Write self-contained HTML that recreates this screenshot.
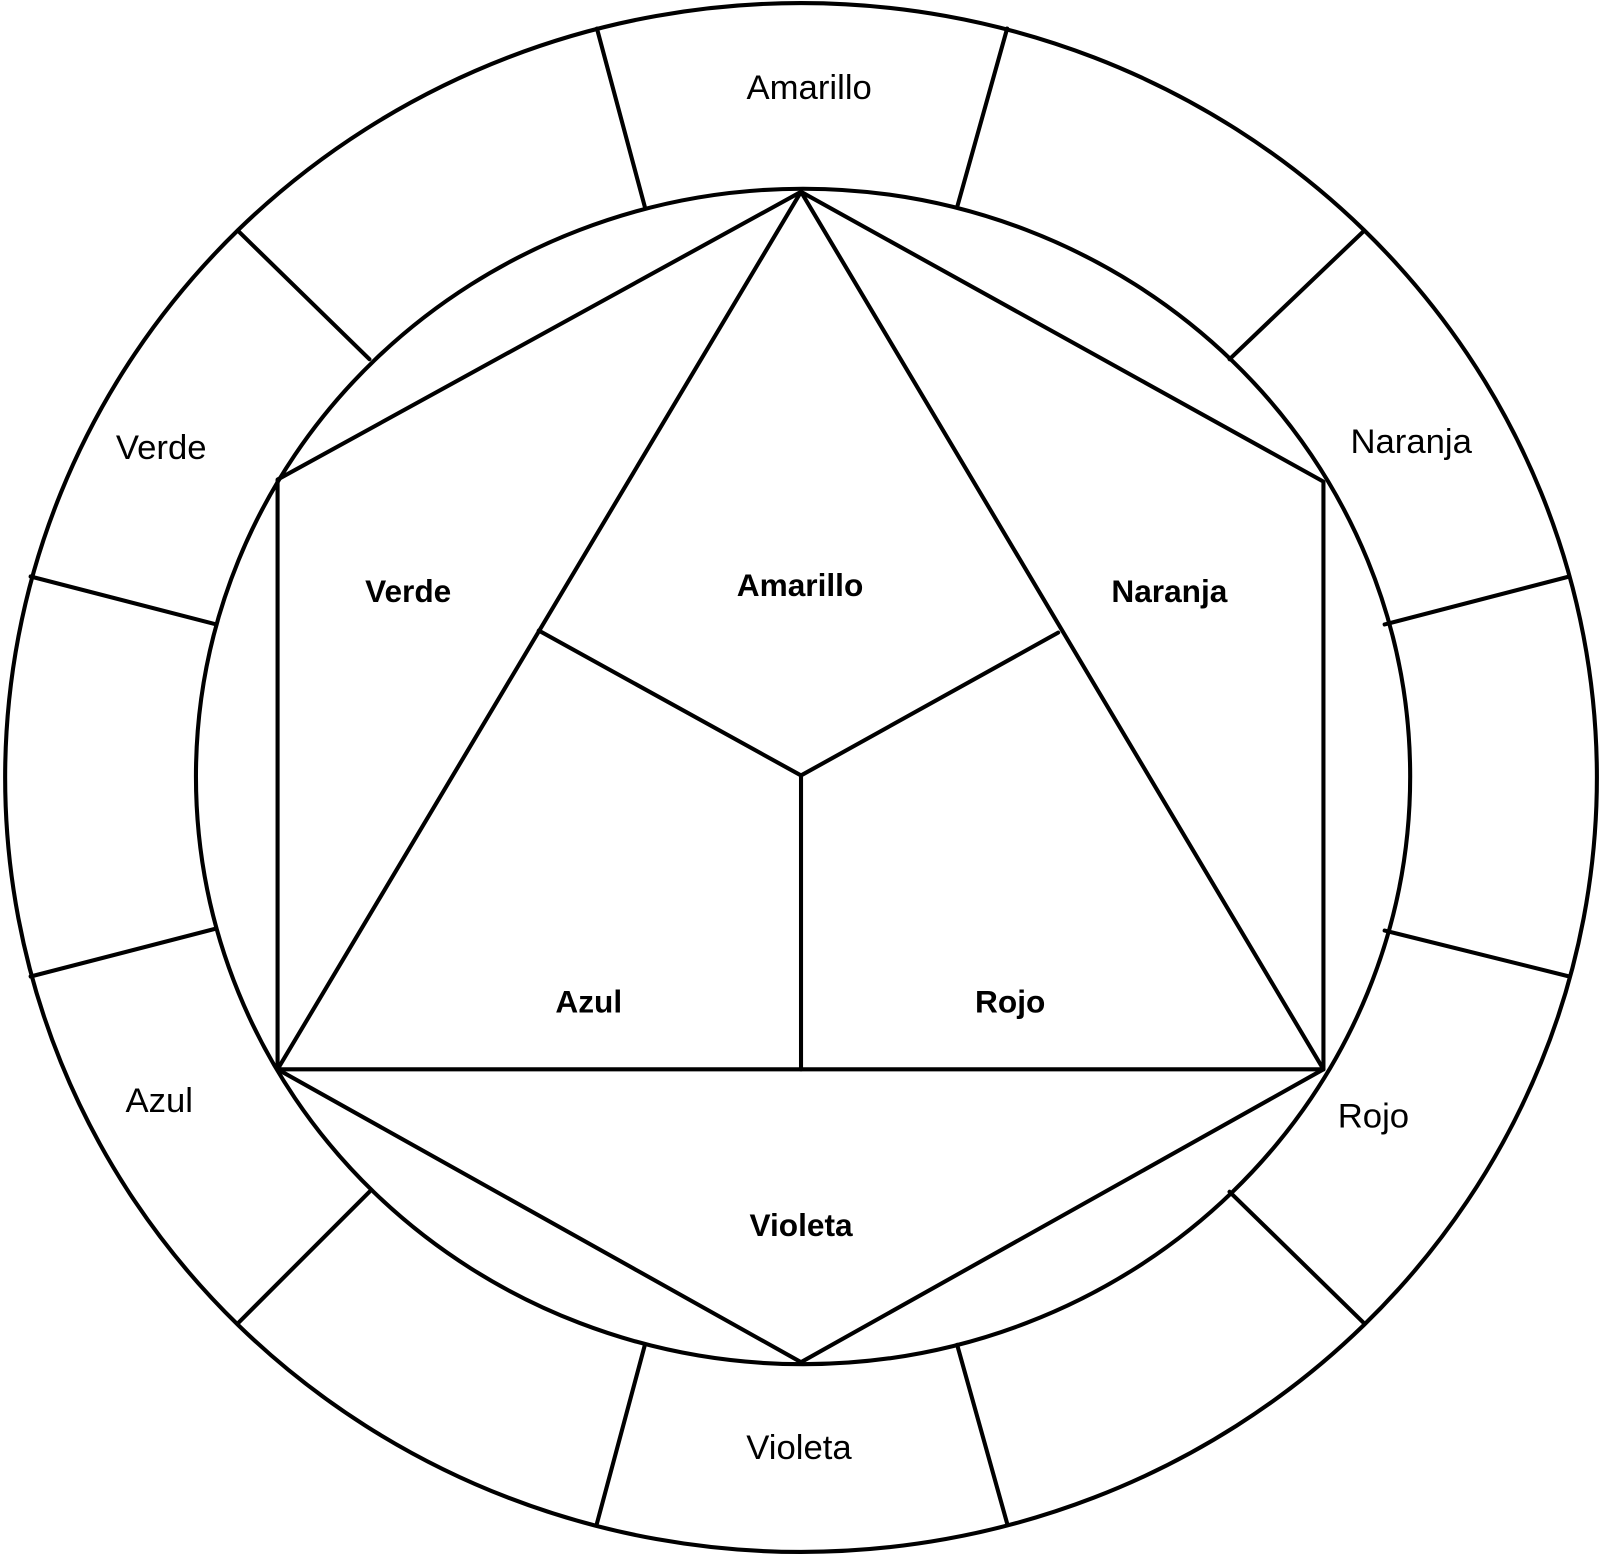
<!DOCTYPE html>
<html><head><meta charset="utf-8"><style>
html,body{margin:0;padding:0;background:#fff;}
svg{display:block;}
text{font-family:"Liberation Sans",sans-serif;font-size:34px;text-anchor:middle;dominant-baseline:middle;fill:#000;}
.b{font-weight:bold;font-size:31px;}
</style></head><body>
<svg width="1600" height="1554" viewBox="0 0 1568 1523" xmlns="http://www.w3.org/2000/svg">
<g fill="none" stroke="#000" stroke-width="4" stroke-linecap="round" stroke-linejoin="round">
<ellipse cx="785" cy="762" rx="780" ry="759"/>
<ellipse cx="787" cy="761" rx="595" ry="576"/>
<path d="M585 28L632 203M987 28L938 203M233 226L362 352M1337 226L1205 352M30 565L212 612M1538 565L1357 612M30 957L212 910M1538 957L1357 912M233 1297L362 1168M1337 1297L1205 1168M585 1493L632 1318M987 1493L938 1318"/>
<path d="M785 188L272 470L272 1048L785 1335L1297 1048L1297 472Z"/>
<path d="M785 188L272 1048L1297 1048Z"/>
<path d="M528 618L785 760L1037 620M785 760L785 1048"/>
</g>
<text x="793" y="88">Amarillo</text>
<text x="1383" y="435">Naranja</text>
<text x="158" y="441">Verde</text>
<text x="156" y="1081">Azul</text>
<text x="1346" y="1096">Rojo</text>
<text x="783" y="1421">Violeta</text>
<text class="b" x="400" y="582">Verde</text>
<text class="b" x="784" y="576">Amarillo</text>
<text class="b" x="1146" y="582">Naranja</text>
<text class="b" x="577" y="984">Azul</text>
<text class="b" x="990" y="984">Rojo</text>
<text class="b" x="785" y="1203">Violeta</text>
</svg>
</body></html>
